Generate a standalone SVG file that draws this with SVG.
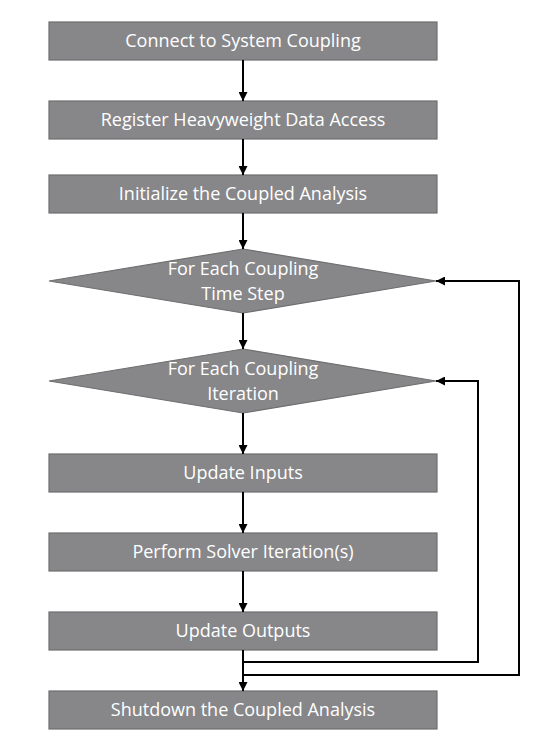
<svg xmlns="http://www.w3.org/2000/svg" width="560" height="750" viewBox="0 0 560 750">
<style>
.box{fill:#87878a;stroke:#6e6e70;stroke-width:1.2}
.t{font-family:"Open Sans","Noto Sans","Liberation Sans",sans-serif;font-size:18px;fill:#ffffff;text-anchor:middle}
.c{fill:none;stroke:#000;stroke-width:2}
</style>
<defs>
<marker id="ah" viewBox="0 0 10 10" refX="10" refY="5" markerWidth="4.5" markerHeight="4.5" orient="auto" markerUnits="strokeWidth">
<path d="M0,0 L10,5 L0,10 Z" fill="#000"/>
</marker>
</defs>
<rect width="560" height="750" fill="#fff"/>
<g id="n1"><rect class="box" x="49" y="22" width="388" height="38"/><text class="t" x="243" y="47">Connect to System Coupling</text></g>
<g id="n2"><rect class="box" x="49" y="101" width="388" height="38"/><text class="t" x="243" y="126">Register Heavyweight Data Access</text></g>
<g id="n3"><rect class="box" x="49" y="175" width="388" height="38"/><text class="t" x="243" y="200">Initialize the Coupled Analysis</text></g>
<g id="n4"><polygon class="box" points="243,249 436,281 243,313 49,281"/><text class="t" x="243" y="275">For Each Coupling</text><text class="t" x="243" y="300">Time Step</text></g>
<g id="n5"><polygon class="box" points="243,349 436,381 243,413 49,381"/><text class="t" x="243" y="375">For Each Coupling</text><text class="t" x="243" y="400">Iteration</text></g>
<g id="n6"><rect class="box" x="49" y="454" width="388" height="38"/><text class="t" x="243" y="479">Update Inputs</text></g>
<g id="n7"><rect class="box" x="49" y="533" width="388" height="38"/><text class="t" x="243" y="558">Perform Solver Iteration(s)</text></g>
<g id="n8"><rect class="box" x="49" y="612" width="388" height="38"/><text class="t" x="243" y="637">Update Outputs</text></g>
<g id="n9"><rect class="box" x="49" y="691" width="388" height="38"/><text class="t" x="243" y="716">Shutdown the Coupled Analysis</text></g>
<g id="connectors">
<line class="c" x1="243" y1="60" x2="243" y2="101" marker-end="url(#ah)"/>
<line class="c" x1="243" y1="139" x2="243" y2="175" marker-end="url(#ah)"/>
<line class="c" x1="243" y1="213" x2="243" y2="249" marker-end="url(#ah)"/>
<line class="c" x1="243" y1="313" x2="243" y2="349" marker-end="url(#ah)"/>
<line class="c" x1="243" y1="413" x2="243" y2="454" marker-end="url(#ah)"/>
<line class="c" x1="243" y1="492" x2="243" y2="533" marker-end="url(#ah)"/>
<line class="c" x1="243" y1="571" x2="243" y2="612" marker-end="url(#ah)"/>
<line class="c" x1="243" y1="650" x2="243" y2="691" marker-end="url(#ah)"/>
<polyline class="c" points="243,662 478,662 478,381 436,381" marker-end="url(#ah)"/>
<polyline class="c" points="243,675 519,675 519,281 436,281" marker-end="url(#ah)"/>
</g>
</svg>
